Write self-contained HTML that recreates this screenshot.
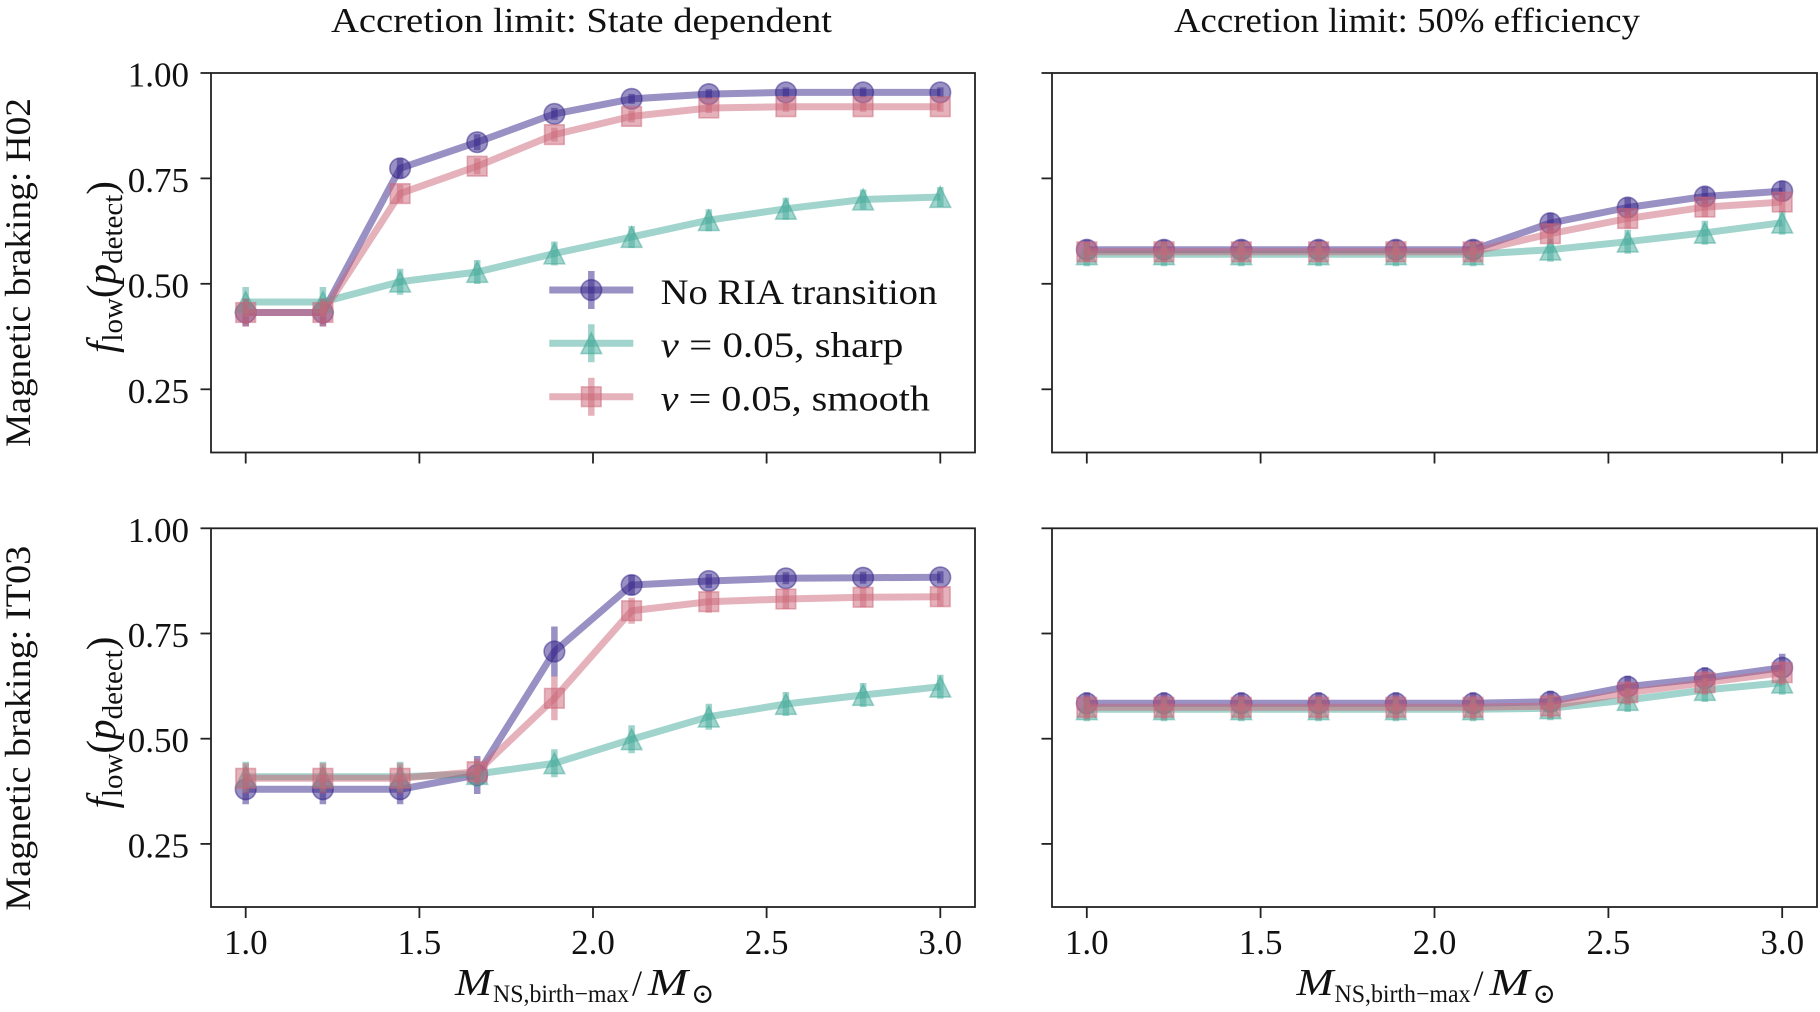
<!DOCTYPE html>
<html>
<head>
<meta charset="utf-8">
<style>
  html, body { margin:0; padding:0; background:#fff; }
  svg { display:block; }
  text { font-family: "Liberation Serif", "DejaVu Serif", serif; fill:#111; }
  .spine { fill:none; stroke:#222; stroke-width:1.8; }
  .tick { stroke:#222; stroke-width:1.8; }
  .lb { fill:none; stroke:#332288; stroke-opacity:.5; stroke-width:7; stroke-linejoin:round; }
  .lg { fill:none; stroke:#44AA99; stroke-opacity:.5; stroke-width:7; stroke-linejoin:round; }
  .lp { fill:none; stroke:#CC6677; stroke-opacity:.5; stroke-width:7; stroke-linejoin:round; }
  .eb { fill:none; stroke:#332288; stroke-opacity:.5; stroke-width:6.5; }
  .eg { fill:none; stroke:#44AA99; stroke-opacity:.5; stroke-width:6.5; }
  .ep { fill:none; stroke:#CC6677; stroke-opacity:.5; stroke-width:6.5; }
  .mb { fill:#332288; fill-opacity:.5; stroke:#332288; stroke-opacity:.5; stroke-width:1.6; }
  .mg { fill:#44AA99; fill-opacity:.5; stroke:#44AA99; stroke-opacity:.5; stroke-width:1.6; }
  .mp { fill:#CC6677; fill-opacity:.5; stroke:#CC6677; stroke-opacity:.5; stroke-width:1.6; }
  .tl { font-size:35px; }
</style>
</head>
<body>
<svg width="1820" height="1012" viewBox="0 0 1820 1012" xmlns="http://www.w3.org/2000/svg">
<defs>
  <circle id="mc" cx="0" cy="0" r="10.3"/>
  <rect id="ms" x="-9.8" y="-9.8" width="19.6" height="19.6"/>
  <path id="mt" d="M0,-10.3 L-10.3,10.3 L10.3,10.3 Z"/>
</defs>

<!-- Titles -->
<text x="331" y="32" font-size="35" textLength="501" lengthAdjust="spacingAndGlyphs">Accretion limit: State dependent</text>
<text x="1174" y="32" font-size="35" textLength="466" lengthAdjust="spacingAndGlyphs">Accretion limit: 50% efficiency</text>

<!-- Row labels -->
<text transform="translate(30,272.5) rotate(-90)" text-anchor="middle" font-size="36" textLength="349" lengthAdjust="spacingAndGlyphs">Magnetic braking: H02</text>
<text transform="translate(30,728.3) rotate(-90)" text-anchor="middle" font-size="36" textLength="365" lengthAdjust="spacingAndGlyphs">Magnetic braking: IT03</text>

<!-- Y axis labels -->
<text transform="translate(115,267) rotate(-90)" text-anchor="middle" font-size="41"><tspan font-style="italic">f</tspan><tspan font-size="29" dy="7">low</tspan><tspan dy="-7">(</tspan><tspan font-style="italic">p</tspan><tspan font-size="29" dy="7">detect</tspan><tspan dy="-7">)</tspan></text>
<text transform="translate(115,722.5) rotate(-90)" text-anchor="middle" font-size="41"><tspan font-style="italic">f</tspan><tspan font-size="29" dy="7">low</tspan><tspan dy="-7">(</tspan><tspan font-style="italic">p</tspan><tspan font-size="29" dy="7">detect</tspan><tspan dy="-7">)</tspan></text>

<!-- Spines -->
<rect class="spine" x="211" y="73" width="764" height="379.5"/>
<rect class="spine" x="1052" y="73" width="765" height="379.5"/>
<rect class="spine" x="211" y="528.3" width="764" height="378.7"/>
<rect class="spine" x="1052" y="528.3" width="765" height="378.7"/>

<!-- Y ticks -->
<g class="tick">
  <line x1="200.5" y1="73" x2="211" y2="73"/><line x1="200.5" y1="178.4" x2="211" y2="178.4"/>
  <line x1="200.5" y1="283.8" x2="211" y2="283.8"/><line x1="200.5" y1="389.3" x2="211" y2="389.3"/>
  <line x1="1041.5" y1="73" x2="1052" y2="73"/><line x1="1041.5" y1="178.4" x2="1052" y2="178.4"/>
  <line x1="1041.5" y1="283.8" x2="1052" y2="283.8"/><line x1="1041.5" y1="389.3" x2="1052" y2="389.3"/>
  <line x1="200.5" y1="528.3" x2="211" y2="528.3"/><line x1="200.5" y1="633.5" x2="211" y2="633.5"/>
  <line x1="200.5" y1="738.7" x2="211" y2="738.7"/><line x1="200.5" y1="843.9" x2="211" y2="843.9"/>
  <line x1="1041.5" y1="528.3" x2="1052" y2="528.3"/><line x1="1041.5" y1="633.5" x2="1052" y2="633.5"/>
  <line x1="1041.5" y1="738.7" x2="1052" y2="738.7"/><line x1="1041.5" y1="843.9" x2="1052" y2="843.9"/>
</g>
<!-- X ticks -->
<g class="tick">
  <line x1="245.7" y1="452.5" x2="245.7" y2="463.5"/><line x1="419.4" y1="452.5" x2="419.4" y2="463.5"/>
  <line x1="593" y1="452.5" x2="593" y2="463.5"/><line x1="766.6" y1="452.5" x2="766.6" y2="463.5"/>
  <line x1="940.3" y1="452.5" x2="940.3" y2="463.5"/>
  <line x1="1086.8" y1="452.5" x2="1086.8" y2="463.5"/><line x1="1260.6" y1="452.5" x2="1260.6" y2="463.5"/>
  <line x1="1434.5" y1="452.5" x2="1434.5" y2="463.5"/><line x1="1608.4" y1="452.5" x2="1608.4" y2="463.5"/>
  <line x1="1782.2" y1="452.5" x2="1782.2" y2="463.5"/>
  <line x1="245.7" y1="907" x2="245.7" y2="918"/><line x1="419.4" y1="907" x2="419.4" y2="918"/>
  <line x1="593" y1="907" x2="593" y2="918"/><line x1="766.6" y1="907" x2="766.6" y2="918"/>
  <line x1="940.3" y1="907" x2="940.3" y2="918"/>
  <line x1="1086.8" y1="907" x2="1086.8" y2="918"/><line x1="1260.6" y1="907" x2="1260.6" y2="918"/>
  <line x1="1434.5" y1="907" x2="1434.5" y2="918"/><line x1="1608.4" y1="907" x2="1608.4" y2="918"/>
  <line x1="1782.2" y1="907" x2="1782.2" y2="918"/>
</g>

<!-- Y tick labels -->
<g class="tl" text-anchor="end">
  <text x="189" y="86.5">1.00</text><text x="189" y="191.9">0.75</text>
  <text x="189" y="297.3">0.50</text><text x="189" y="402.8">0.25</text>
  <text x="189" y="541.8">1.00</text><text x="189" y="647">0.75</text>
  <text x="189" y="752.2">0.50</text><text x="189" y="857.4">0.25</text>
</g>
<!-- X tick labels -->
<g class="tl" text-anchor="middle">
  <text x="245.7" y="954">1.0</text><text x="419.4" y="954">1.5</text><text x="593" y="954">2.0</text>
  <text x="766.6" y="954">2.5</text><text x="940.3" y="954">3.0</text>
  <text x="1086.8" y="954">1.0</text><text x="1260.6" y="954">1.5</text><text x="1434.5" y="954">2.0</text>
  <text x="1608.4" y="954">2.5</text><text x="1782.2" y="954">3.0</text>
</g>

<!-- X axis labels -->
<g>
  <text x="455" y="995" font-size="38" font-style="italic" textLength="37" lengthAdjust="spacingAndGlyphs">M</text>
  <text x="493" y="1002" font-size="25" textLength="136" lengthAdjust="spacingAndGlyphs">NS,birth−max</text>
  <text x="632" y="995" font-size="36">/</text>
  <text x="648" y="995" font-size="38" font-style="italic" textLength="40" lengthAdjust="spacingAndGlyphs">M</text>
  <text x="691" y="1003" font-size="28">⊙</text>

  <text x="1296.5" y="995" font-size="38" font-style="italic" textLength="37" lengthAdjust="spacingAndGlyphs">M</text>
  <text x="1334.5" y="1002" font-size="25" textLength="136" lengthAdjust="spacingAndGlyphs">NS,birth−max</text>
  <text x="1473.5" y="995" font-size="36">/</text>
  <text x="1489.5" y="995" font-size="38" font-style="italic" textLength="40" lengthAdjust="spacingAndGlyphs">M</text>
  <text x="1532.5" y="1003" font-size="28">⊙</text>
</g>

<!-- ===== TOP-LEFT ===== -->
<polyline class="lb" points="245.7,312.5 322.9,312.5 400.1,168.3 477.2,142.2 554.4,113.9 631.6,98.9 708.8,94.1 785.9,92.4 863.1,92.4 940.3,92.4"/>
<path class="eb" d="M245.7,298.5V326.5M322.9,298.5V326.5M400.1,158.3V178.3M477.2,134.2V150.2M554.4,107.9V119.9M631.6,93.9V103.9M708.8,89.1V99.1M785.9,87.4V97.4M863.1,87.4V97.4M940.3,87.4V97.4"/>
<g class="mb">
  <use href="#mc" x="245.7" y="312.5"/><use href="#mc" x="322.9" y="312.5"/><use href="#mc" x="400.1" y="168.3"/>
  <use href="#mc" x="477.2" y="142.2"/><use href="#mc" x="554.4" y="113.9"/><use href="#mc" x="631.6" y="98.9"/>
  <use href="#mc" x="708.8" y="94.1"/><use href="#mc" x="785.9" y="92.4"/><use href="#mc" x="863.1" y="92.4"/>
  <use href="#mc" x="940.3" y="92.4"/>
</g>
<polyline class="lg" points="245.7,302 322.9,302 400.1,281.7 477.2,272 554.4,253.5 631.6,237 708.8,220.2 785.9,208.8 863.1,199.5 940.3,197"/>
<path class="eg" d="M245.7,287V317M322.9,287V317M400.1,268.7V294.7M477.2,260V284M554.4,241.5V265.5M631.6,226V248M708.8,209.2V231.2M785.9,197.8V219.8M863.1,189.5V209.5M940.3,187V207"/>
<g class="mg">
  <use href="#mt" x="245.7" y="302"/><use href="#mt" x="322.9" y="302"/><use href="#mt" x="400.1" y="281.7"/>
  <use href="#mt" x="477.2" y="272"/><use href="#mt" x="554.4" y="253.5"/><use href="#mt" x="631.6" y="237"/>
  <use href="#mt" x="708.8" y="220.2"/><use href="#mt" x="785.9" y="208.8"/><use href="#mt" x="863.1" y="199.5"/>
  <use href="#mt" x="940.3" y="197"/>
</g>
<polyline class="lp" points="245.7,312.5 322.9,312.5 400.1,193.6 477.2,166.2 554.4,134.6 631.6,116.4 708.8,108 785.9,106.7 863.1,106.7 940.3,106.7"/>
<path class="ep" d="M245.7,298.5V326.5M322.9,298.5V326.5M400.1,184.6V202.6M477.2,158.2V174.2M554.4,127.6V141.6M631.6,110.4V122.4M708.8,103V113M785.9,101.7V111.7M863.1,101.7V111.7M940.3,101.7V111.7"/>
<g class="mp">
  <use href="#ms" x="245.7" y="312.5"/><use href="#ms" x="322.9" y="312.5"/><use href="#ms" x="400.1" y="193.6"/>
  <use href="#ms" x="477.2" y="166.2"/><use href="#ms" x="554.4" y="134.6"/><use href="#ms" x="631.6" y="116.4"/>
  <use href="#ms" x="708.8" y="108"/><use href="#ms" x="785.9" y="106.7"/><use href="#ms" x="863.1" y="106.7"/>
  <use href="#ms" x="940.3" y="106.7"/>
</g>

<!-- Legend -->
<line class="lb" x1="549.3" y1="290" x2="633.3" y2="290"/>
<path class="eb" d="M591.3,271V309"/>
<use href="#mc" x="591.3" y="290" class="mb"/>
<text x="660.7" y="304" font-size="36" textLength="276.6" lengthAdjust="spacingAndGlyphs">No RIA transition</text>

<line class="lg" x1="549.3" y1="343.3" x2="633.3" y2="343.3"/>
<path class="eg" d="M591.3,324.3V362.3"/>
<use href="#mt" x="591.3" y="343.3" class="mg"/>
<text x="660.7" y="357" font-size="36" textLength="242.6" lengthAdjust="spacingAndGlyphs"><tspan font-style="italic">ν</tspan> = 0.05,  sharp</text>

<line class="lp" x1="549.3" y1="396.7" x2="633.3" y2="396.7"/>
<path class="ep" d="M591.3,377.7V415.7"/>
<use href="#ms" x="591.3" y="396.7" class="mp"/>
<text x="660.7" y="410.5" font-size="36" textLength="269.3" lengthAdjust="spacingAndGlyphs"><tspan font-style="italic">ν</tspan> = 0.05,  smooth</text>

<!-- ===== TOP-RIGHT ===== -->
<polyline class="lb" points="1086.8,249.7 1164,249.7 1241.3,249.7 1318.6,249.7 1395.9,249.7 1473.1,249.7 1550.4,223.1 1627.7,207.5 1704.9,196.5 1782.2,191.1"/>
<path class="eb" d="M1086.8,239.7V259.7M1164,239.7V259.7M1241.3,239.7V259.7M1318.6,239.7V259.7M1395.9,239.7V259.7M1473.1,239.7V259.7M1550.4,213.1V233.1M1627.7,197.5V217.5M1704.9,186.5V206.5M1782.2,181.1V201.1"/>
<g class="mb">
  <use href="#mc" x="1086.8" y="249.7"/><use href="#mc" x="1164" y="249.7"/><use href="#mc" x="1241.3" y="249.7"/>
  <use href="#mc" x="1318.6" y="249.7"/><use href="#mc" x="1395.9" y="249.7"/><use href="#mc" x="1473.1" y="249.7"/>
  <use href="#mc" x="1550.4" y="223.1"/><use href="#mc" x="1627.7" y="207.5"/><use href="#mc" x="1704.9" y="196.5"/>
  <use href="#mc" x="1782.2" y="191.1"/>
</g>
<polyline class="lg" points="1086.8,254.3 1164,254.3 1241.3,254.3 1318.6,254.3 1395.9,254.3 1473.1,254.3 1550.4,249.7 1627.7,241.7 1704.9,232.8 1782.2,222.7"/>
<path class="eg" d="M1086.8,242.3V266.3M1164,242.3V266.3M1241.3,242.3V266.3M1318.6,242.3V266.3M1395.9,242.3V266.3M1473.1,242.3V266.3M1550.4,237.7V261.7M1627.7,229.7V253.7M1704.9,220.8V244.8M1782.2,210.7V234.7"/>
<g class="mg">
  <use href="#mt" x="1086.8" y="254.3"/><use href="#mt" x="1164" y="254.3"/><use href="#mt" x="1241.3" y="254.3"/>
  <use href="#mt" x="1318.6" y="254.3"/><use href="#mt" x="1395.9" y="254.3"/><use href="#mt" x="1473.1" y="254.3"/>
  <use href="#mt" x="1550.4" y="249.7"/><use href="#mt" x="1627.7" y="241.7"/><use href="#mt" x="1704.9" y="232.8"/>
  <use href="#mt" x="1782.2" y="222.7"/>
</g>
<polyline class="lp" points="1086.8,251.8 1164,251.8 1241.3,251.8 1318.6,251.8 1395.9,251.8 1473.1,251.8 1550.4,233.7 1627.7,218.5 1704.9,207.1 1782.2,202"/>
<path class="ep" d="M1086.8,241.8V261.8M1164,241.8V261.8M1241.3,241.8V261.8M1318.6,241.8V261.8M1395.9,241.8V261.8M1473.1,241.8V261.8M1550.4,223.7V243.7M1627.7,208.5V228.5M1704.9,197.1V217.1M1782.2,192V212"/>
<g class="mp">
  <use href="#ms" x="1086.8" y="251.8"/><use href="#ms" x="1164" y="251.8"/><use href="#ms" x="1241.3" y="251.8"/>
  <use href="#ms" x="1318.6" y="251.8"/><use href="#ms" x="1395.9" y="251.8"/><use href="#ms" x="1473.1" y="251.8"/>
  <use href="#ms" x="1550.4" y="233.7"/><use href="#ms" x="1627.7" y="218.5"/><use href="#ms" x="1704.9" y="207.1"/>
  <use href="#ms" x="1782.2" y="202"/>
</g>

<!-- ===== BOTTOM-LEFT ===== -->
<polyline class="lb" points="245.7,789.3 322.9,789.3 400.1,789.3 477.2,775 554.4,651.5 631.6,585 708.8,581 785.9,578.3 863.1,577.7 940.3,577.3"/>
<path class="eb" d="M245.7,774.3V804.3M322.9,774.3V804.3M400.1,774.3V804.3M477.2,756V794M554.4,626.5V676.5M631.6,575V595M708.8,574V588M785.9,572.3V584.3M863.1,571.7V583.7M940.3,571.3V583.3"/>
<g class="mb">
  <use href="#mc" x="245.7" y="789.3"/><use href="#mc" x="322.9" y="789.3"/><use href="#mc" x="400.1" y="789.3"/>
  <use href="#mc" x="477.2" y="775"/><use href="#mc" x="554.4" y="651.5"/><use href="#mc" x="631.6" y="585"/>
  <use href="#mc" x="708.8" y="581"/><use href="#mc" x="785.9" y="578.3"/><use href="#mc" x="863.1" y="577.7"/>
  <use href="#mc" x="940.3" y="577.3"/>
</g>
<polyline class="lg" points="245.7,776.7 322.9,776.7 400.1,776.7 477.2,774 554.4,763.3 631.6,739.3 708.8,716.7 785.9,704 863.1,695 940.3,686.7"/>
<path class="eg" d="M245.7,761.7V791.7M322.9,761.7V791.7M400.1,761.7V791.7M477.2,761V787M554.4,749.3V777.3M631.6,725.3V753.3M708.8,703.7V729.7M785.9,692V716M863.1,683V707M940.3,674.7V698.7"/>
<g class="mg">
  <use href="#mt" x="245.7" y="776.7"/><use href="#mt" x="322.9" y="776.7"/><use href="#mt" x="400.1" y="776.7"/>
  <use href="#mt" x="477.2" y="774"/><use href="#mt" x="554.4" y="763.3"/><use href="#mt" x="631.6" y="739.3"/>
  <use href="#mt" x="708.8" y="716.7"/><use href="#mt" x="785.9" y="704"/><use href="#mt" x="863.1" y="695"/>
  <use href="#mt" x="940.3" y="686.7"/>
</g>
<polyline class="lp" points="245.7,778.3 322.9,778.3 400.1,778.3 477.2,771.7 554.4,698.3 631.6,610.7 708.8,601.7 785.9,599 863.1,597.3 940.3,596.7"/>
<path class="ep" d="M245.7,763.3V793.3M322.9,763.3V793.3M400.1,763.3V793.3M477.2,758.7V784.7M554.4,676.3V720.3M631.6,597.7V623.7M708.8,590.7V612.7M785.9,589V609M863.1,587.3V607.3M940.3,586.7V606.7"/>
<g class="mp">
  <use href="#ms" x="245.7" y="778.3"/><use href="#ms" x="322.9" y="778.3"/><use href="#ms" x="400.1" y="778.3"/>
  <use href="#ms" x="477.2" y="771.7"/><use href="#ms" x="554.4" y="698.3"/><use href="#ms" x="631.6" y="610.7"/>
  <use href="#ms" x="708.8" y="601.7"/><use href="#ms" x="785.9" y="599"/><use href="#ms" x="863.1" y="597.3"/>
  <use href="#ms" x="940.3" y="596.7"/>
</g>

<!-- ===== BOTTOM-RIGHT ===== -->
<polyline class="lb" points="1086.8,703.3 1164,703.3 1241.3,703.3 1318.6,703.3 1395.9,703.3 1473.1,703.3 1550.4,701.7 1627.7,686.7 1704.9,678.3 1782.2,667.7"/>
<path class="eb" d="M1086.8,692.3V714.3M1164,692.3V714.3M1241.3,692.3V714.3M1318.6,692.3V714.3M1395.9,692.3V714.3M1473.1,692.3V714.3M1550.4,690.7V712.7M1627.7,675.7V697.7M1704.9,667.3V689.3M1782.2,653.7V681.7"/>
<g class="mb">
  <use href="#mc" x="1086.8" y="703.3"/><use href="#mc" x="1164" y="703.3"/><use href="#mc" x="1241.3" y="703.3"/>
  <use href="#mc" x="1318.6" y="703.3"/><use href="#mc" x="1395.9" y="703.3"/><use href="#mc" x="1473.1" y="703.3"/>
  <use href="#mc" x="1550.4" y="701.7"/><use href="#mc" x="1627.7" y="686.7"/><use href="#mc" x="1704.9" y="678.3"/>
  <use href="#mc" x="1782.2" y="667.7"/>
</g>
<polyline class="lg" points="1086.8,709.3 1164,709.3 1241.3,709.3 1318.6,709.3 1395.9,709.3 1473.1,709.3 1550.4,708.3 1627.7,700 1704.9,690 1782.2,682.7"/>
<path class="eg" d="M1086.8,697.3V721.3M1164,697.3V721.3M1241.3,697.3V721.3M1318.6,697.3V721.3M1395.9,697.3V721.3M1473.1,697.3V721.3M1550.4,696.3V720.3M1627.7,688V712M1704.9,678V702M1782.2,670.7V694.7"/>
<g class="mg">
  <use href="#mt" x="1086.8" y="709.3"/><use href="#mt" x="1164" y="709.3"/><use href="#mt" x="1241.3" y="709.3"/>
  <use href="#mt" x="1318.6" y="709.3"/><use href="#mt" x="1395.9" y="709.3"/><use href="#mt" x="1473.1" y="709.3"/>
  <use href="#mt" x="1550.4" y="708.3"/><use href="#mt" x="1627.7" y="700"/><use href="#mt" x="1704.9" y="690"/>
  <use href="#mt" x="1782.2" y="682.7"/>
</g>
<polyline class="lp" points="1086.8,707.3 1164,707.3 1241.3,707.3 1318.6,707.3 1395.9,707.3 1473.1,707.3 1550.4,706 1627.7,692.7 1704.9,682.7 1782.2,672.7"/>
<path class="ep" d="M1086.8,695.3V719.3M1164,695.3V719.3M1241.3,695.3V719.3M1318.6,695.3V719.3M1395.9,695.3V719.3M1473.1,695.3V719.3M1550.4,694V718M1627.7,680.7V704.7M1704.9,670.7V694.7M1782.2,660.7V684.7"/>
<g class="mp">
  <use href="#ms" x="1086.8" y="707.3"/><use href="#ms" x="1164" y="707.3"/><use href="#ms" x="1241.3" y="707.3"/>
  <use href="#ms" x="1318.6" y="707.3"/><use href="#ms" x="1395.9" y="707.3"/><use href="#ms" x="1473.1" y="707.3"/>
  <use href="#ms" x="1550.4" y="706"/><use href="#ms" x="1627.7" y="692.7"/><use href="#ms" x="1704.9" y="682.7"/>
  <use href="#ms" x="1782.2" y="672.7"/>
</g>

</svg>
</body>
</html>
